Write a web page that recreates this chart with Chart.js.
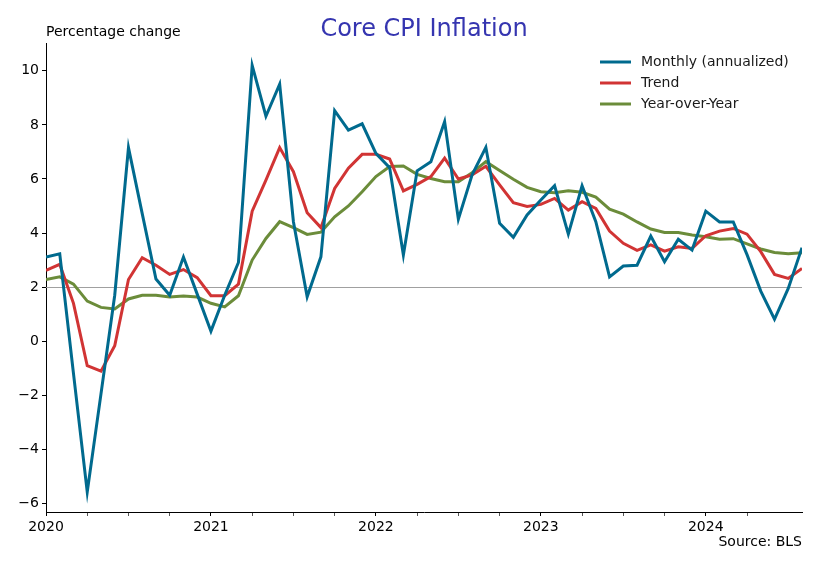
<!DOCTYPE html>
<html>
<head>
<meta charset="utf-8">
<script src="https://cdn.jsdelivr.net/npm/chart.js@4/dist/chart.umd.min.js"></script>
<style>
  html, body { margin: 0; padding: 0; background: #fff; }
  #wrap { width: 819px; height: 568px; }
</style>
</head>
<body>
<div id="wrap"><canvas id="chart"></canvas></div>
<script>
// Jan 2020 .. Aug 2024, one value per month
const yearLabels = ['2020', '2021', '2022', '2023', '2024'];
const yTickValues = [-6, -4, -2, 0, 2, 4, 6, 8, 10];
const seriesNames = ['Monthly (annualized)', 'Trend', 'Year-over-Year'];
const seriesColors = ['#006a8e', '#d13434', '#6b8c3a'];

const monthly = [3.11, 3.23, -1.2, -5.58, -1.95, 1.70, 7.16, 4.72, 2.30, 1.70, 3.11, 1.74,
                 0.37, 1.70, 2.91, 10.2, 8.32, 9.51, 4.42, 1.64, 3.12, 8.53, 7.81, 8.04,
                 6.95, 6.42, 3.19, 6.30, 6.64, 8.12, 4.51, 6.15, 7.17, 4.36, 3.84, 4.67,
                 5.22, 5.75, 3.96, 5.75, 4.42, 2.38, 2.78, 2.81, 3.89, 2.94, 3.77, 3.37,
                 4.81, 4.41, 4.41, 3.20, 1.85, 0.81, 1.95, 3.46];

const trend = [2.62, 2.84, 1.40, -0.91, -1.11, -0.17, 2.28, 3.09, 2.81, 2.47, 2.65, 2.35,
               1.68, 1.68, 2.11, 4.81, 5.96, 7.16, 6.27, 4.75, 4.20, 5.65, 6.40, 6.91,
               6.91, 6.74, 5.56, 5.80, 6.09, 6.77, 6.00, 6.15, 6.47, 5.78, 5.12, 4.98,
               5.06, 5.28, 4.85, 5.16, 4.91, 4.07, 3.62, 3.36, 3.56, 3.33, 3.49, 3.43,
               3.90, 4.07, 4.17, 3.96, 3.31, 2.47, 2.32, 2.69];

const yoy = [2.28, 2.38, 2.11, 1.48, 1.25, 1.19, 1.56, 1.70, 1.70, 1.63, 1.67, 1.63,
             1.40, 1.27, 1.68, 3.00, 3.80, 4.42, 4.20, 3.95, 4.03, 4.60, 5.00, 5.53,
             6.09, 6.46, 6.48, 6.17, 6.02, 5.90, 5.90, 6.23, 6.64, 6.31, 5.99, 5.69,
             5.53, 5.49, 5.56, 5.51, 5.33, 4.88, 4.70, 4.41, 4.15, 4.02, 4.02, 3.93,
             3.86, 3.77, 3.79, 3.60, 3.41, 3.28, 3.23, 3.27];

const refLevel = 2;
const FONT = '"DejaVu Sans", sans-serif';

function toPoints(arr) {
  return arr.map((v, i) => ({ x: i, y: v }));
}

// gray reference line, titles, source note and legend inside the plot
const overlay = {
  id: 'overlay',
  beforeDatasetsDraw(chart) {
    const { ctx, chartArea, scales } = chart;
    const y = Math.round(scales.y.getPixelForValue(refLevel)) + 0.5;
    ctx.save();
    ctx.strokeStyle = '#a0a0a0';
    ctx.lineWidth = 1;
    ctx.beginPath();
    ctx.moveTo(chartArea.left, y);
    ctx.lineTo(chartArea.right, y);
    ctx.stroke();
    ctx.restore();
  },
  afterDraw(chart) {
    const { ctx, chartArea } = chart;
    ctx.save();
    ctx.textBaseline = 'middle';

    ctx.fillStyle = '#3535b0';
    ctx.font = '24px ' + FONT;
    ctx.textAlign = 'center';
    ctx.fillText('Core CPI Inflation', (chartArea.left + chartArea.right) / 2, 30);

    ctx.fillStyle = '#000';
    ctx.font = '14px ' + FONT;
    ctx.textAlign = 'left';
    ctx.fillText('Percentage change', chartArea.left, 32);

    ctx.textAlign = 'right';
    ctx.fillText('Source: BLS', chartArea.right, 542);

    ctx.textAlign = 'left';
    seriesNames.forEach((name, i) => {
      const y = 62 + i * 21;
      ctx.strokeStyle = seriesColors[i];
      ctx.lineWidth = 3;
      ctx.beginPath();
      ctx.moveTo(600, y);
      ctx.lineTo(631, y);
      ctx.stroke();
      ctx.fillStyle = '#1a1a1a';
      ctx.fillText(name, 641, y);
    });
    ctx.restore();
  }
};

const series = [monthly, trend, yoy];

new Chart(document.getElementById('chart'), {
  type: 'line',
  data: {
    datasets: series.map((s, i) => ({
      label: seriesNames[i],
      data: toPoints(s),
      borderColor: seriesColors[i],
      borderWidth: 3,
      pointRadius: 0,
      tension: 0,
      fill: false
    }))
  },
  options: {
    responsive: true,
    maintainAspectRatio: false,
    animation: false,
    layout: { padding: { top: 43, right: 17, left: 0, bottom: 0 } },
    plugins: {
      legend: { display: false },
      title: { display: false },
      tooltip: { enabled: false }
    },
    scales: {
      x: {
        type: 'linear',
        min: 0,
        max: monthly.length - 1,
        afterBuildTicks(scale) {
          scale.ticks = scale.ticks.filter(t => t.value % 3 === 0);
        },
        afterFit(scale) { scale.height = 56; },
        ticks: {
          stepSize: 3,
          autoSkip: false,
          maxRotation: 0,
          padding: 3,
          color: '#000',
          font: { family: FONT, size: 14 },
          callback: v => (v % 12 === 0 ? yearLabels[v / 12] : '')
        },
        grid: {
          drawOnChartArea: false,
          drawTicks: true,
          tickLength: 4,
          tickColor: ctx => (ctx.tick && ctx.tick.value % 12 === 0 ? '#000' : '#555'),
          tickWidth: 1
        },
        border: { display: true, color: '#000', width: 1 }
      },
      y: {
        min: -6.32,
        max: 11.03,
        afterBuildTicks(scale) {
          scale.ticks = yTickValues.map(v => ({ value: v }));
        },
        afterFit(scale) { scale.width = 46; },
        ticks: {
          stepSize: 2,
          padding: 3,
          color: '#000',
          font: { family: FONT, size: 14 },
          callback: v => (v < 0 ? '\u2212' + Math.abs(v) : String(v))
        },
        grid: {
          drawOnChartArea: false,
          drawTicks: true,
          tickLength: 4,
          tickColor: '#000'
        },
        border: { display: true, color: '#000', width: 1 }
      }
    }
  },
  plugins: [overlay]
});
</script>
</body>
</html>
